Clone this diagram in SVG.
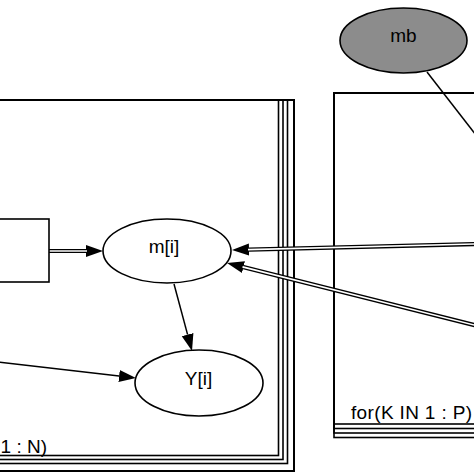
<svg xmlns="http://www.w3.org/2000/svg" width="474" height="474" viewBox="0 0 474 474">
<style>
.plate{fill:none;stroke:#000;stroke-width:1.6}
.node{fill:#fff;stroke:#000;stroke-width:1.6}
.lbl{font-family:"Liberation Sans",Arial,sans-serif;font-size:19px;fill:#000}
.c{text-anchor:middle}
.single{fill:none;stroke:#000;stroke-width:1.5}
.dblout{fill:none;stroke:#000;stroke-width:4.2}
.dblin{fill:none;stroke:#fff;stroke-width:1.6}
</style>
<defs>
<marker id="arr" markerUnits="userSpaceOnUse" markerWidth="18" markerHeight="13" refX="0" refY="6" orient="auto" viewBox="0 0 18 12">
<path d="M0,0 L17,6 L0,12 z" fill="#000"/>
</marker>
</defs>
<rect width="474" height="474" fill="#fff"/>
<g id="plate-i">
<rect class="plate" x="-10" y="100" width="304" height="371" style="stroke-width:2"/>
<rect class="plate" x="-10" y="100" width="297.5" height="363.5"/>
<rect class="plate" x="-10" y="100" width="293" height="359.5"/>
<rect class="plate" x="-10" y="100" width="288.5" height="355.5"/>
<text class="lbl" x="47" y="453" text-anchor="end">1 : N)</text>
</g>
<g id="plate-k">
<rect class="plate" x="334" y="93" width="200" height="344.5"/>
<rect class="plate" x="334" y="93" width="200" height="340"/>
<rect class="plate" x="334" y="93" width="200" height="335.5"/>
<rect class="plate" x="334" y="93" width="200" height="331"/>
<text class="lbl" x="351" y="419" textLength="121">for(K IN 1 : P)</text>
</g>
<g id="connectors">
<path class="dblout" d="M49,251 L86,251" marker-end="url(#arr)"/>
<path class="dblin" d="M49,251 L87,251"/>
<path class="dblout" d="M476,244 L249,249.6" marker-end="url(#arr)"/>
<path class="dblin" d="M476,244 L248,249.6"/>
<path class="dblout" d="M476,325.5 L243.5,267.1" marker-end="url(#arr)"/>
<path class="dblin" d="M476,325.5 L242.5,266.9"/>
<path class="single" d="M174,284 L187.6,334.6" marker-end="url(#arr)"/>
<path class="single" d="M-2,362 L119.1,376" marker-end="url(#arr)"/>
<path class="single" d="M427,72 L476,135"/>
</g>
<g id="node-box">
<rect class="node" x="-10" y="219" width="59" height="63"/>
</g>
<g id="node-m">
<ellipse class="node" cx="167" cy="251" rx="64" ry="32"/>
<text class="lbl c" x="164" y="253">m[i]</text>
</g>
<g id="node-Y">
<ellipse class="node" cx="199" cy="383" rx="64" ry="33"/>
<text class="lbl c" x="198.5" y="385">Y[i]</text>
</g>
<g id="node-mb">
<ellipse class="node" cx="403.5" cy="40.5" rx="63.5" ry="32.5" style="fill:#8c8c8c"/>
<text class="lbl c" x="403.5" y="42">mb</text>
</g>
</svg>
